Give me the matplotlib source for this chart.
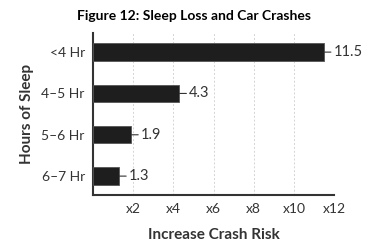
import matplotlib.pyplot as plt

# Data
categories = ["<4 Hr", "4\u20135 Hr", "5\u20136 Hr", "6\u20137 Hr"]
risk = [11.5, 4.3, 1.9, 1.3]
xticks = [2, 4, 6, 8, 10, 12]
xtick_labels = ["x2", "x4", "x6", "x8", "x10", "x12"]

plt.rcParams["font.family"] = ["Lato", "DejaVu Sans"]

fig = plt.figure(figsize=(3.77, 2.47), dpi=100)
ax = fig.add_axes([0.247, 0.21, 0.639, 0.656])

ypos = range(len(categories))
ax.barh(ypos, risk, height=0.42, color="#1e1e1e", edgecolor="#555555", linewidth=0.6, zorder=3)

for y, v in zip(ypos, risk):
    ax.annotate(f"{v}", xy=(v, y), xytext=(7, 0), textcoords="offset points",
                va="center", ha="left", fontsize=10.5, color="#333333",
                arrowprops=dict(arrowstyle="-", color="#333333", lw=0.8,
                                shrinkA=0, shrinkB=0))

ax.set_yticks(list(ypos))
ax.set_yticklabels(categories, fontsize=10, color="#333333")
ax.set_xticks(xticks)
ax.set_xticklabels(xtick_labels, fontsize=10, color="#333333")
ax.set_xlim(0, 12)
ax.set_ylim(3.46, -0.46)
ax.tick_params(length=0, pad=6)

ax.grid(axis="x", linestyle=(0, (2, 2)), color="#d4d4d4", linewidth=0.7, zorder=0)
for s in ["top", "right"]:
    ax.spines[s].set_visible(False)
for s in ["left", "bottom"]:
    ax.spines[s].set_linewidth(1.5)
    ax.spines[s].set_color("#333333")

# title sits a bit left of the axes centre in the original
fig.text(0.515, 0.935, "Figure 12: Sleep Loss and Car Crashes", fontsize=10,
         fontweight="bold", ha="center", va="center")
ax.set_xlabel("Increase Crash Risk", fontsize=11, fontweight="bold", labelpad=9, color="#333333")
ax.set_ylabel("Hours of Sleep", fontsize=11, fontweight="bold", labelpad=5, color="#333333")

fig.savefig("out.png", dpi=100)
